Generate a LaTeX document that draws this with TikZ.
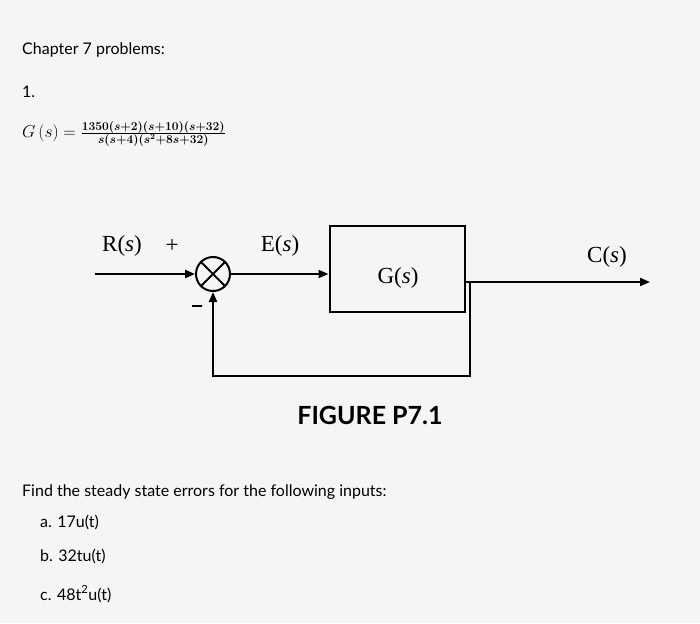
\documentclass[tikz,border=0pt]{standalone}
\usepackage{fontspec}
\setmainfont{Lato}
\newfontfamily\tms{Liberation Serif}
\usetikzlibrary{arrows.meta}
\begin{document}
\begin{tikzpicture}[x=1pt,y=-1pt,
  txt/.style={anchor=west,inner sep=0pt,font=\fontsize{16}{18}\selectfont},
  lbl/.style={inner sep=0pt,font=\tms\fontsize{23}{26}\selectfont},
  ln/.style={line width=2pt},
  arr/.style={ln,-{Triangle[length=10pt,width=8pt]}}]
\fill[white!92!gray] (0,0) rectangle (700,623);
\useasboundingbox (0,0) rectangle (700,623);
\node[txt] (t1) at (22,50) {Chapter 7 problems:};
\node[txt] (t2) at (22,92) {1.};
\node[txt,font=\fontsize{17}{18}\selectfont] (g) at (22,134) {$G\left(s\right)=\frac{\hbox{\fontsize{11.5}{12}\selectfont\boldmath$1350(s{+}2)(s{+}10)(s{+}32)$}}{\hbox{\fontsize{11.5}{12}\selectfont\boldmath$s(s{+}4)(s^2{+}8s{+}32)$}}$};
\node[draw,ln,minimum width=135pt,minimum height=86pt] (G) at (397,269) {};
\node[lbl] (Gl) at (398,278) {G(\textit{s})};
\node[draw,ln,circle,minimum size=34pt,inner sep=0pt] (S) at (213,274) {};
\draw[ln] (S.45) -- (S.225) (S.135) -- (S.315);
\coordinate (in) at (95,274);
\draw[arr] (in) -- (S);
\draw[arr] (S) -- (G.west|-S);
\coordinate (out) at (650,282);
\coordinate (br) at (470,282);
\draw[arr] (G.east|-out) -- (out);
\draw[arr] (br) -- (470,376) -- (213,376) -- (S.south);
\node[lbl] (R) at (122,246) {R(\textit{s})};
\node[lbl] (p) at (172,246) {+};
\node[inner sep=0pt,line width=2pt,draw,minimum width=10pt,minimum height=0pt] (m) at (197,306) {};
\node[lbl] (E) at (280,246) {E(\textit{s})};
\node[lbl] (C) at (607,257) {C(\textit{s})};
\node[inner sep=0pt,font=\bfseries\fontsize{25}{28}\selectfont] (fig) at (370,415) {FIGURE P7.1};
\node[txt] (f) at (22,492) {Find the steady state errors for the following inputs:};
\node[txt] (a) at (40,522) {a. 17u(t)};
\node[txt] (b) at (40,556) {b. 32tu(t)};
\node[txt] (c) at (40,594) {c. 48t\textsuperscript{2}u(t)};
\end{tikzpicture}
\end{document}
